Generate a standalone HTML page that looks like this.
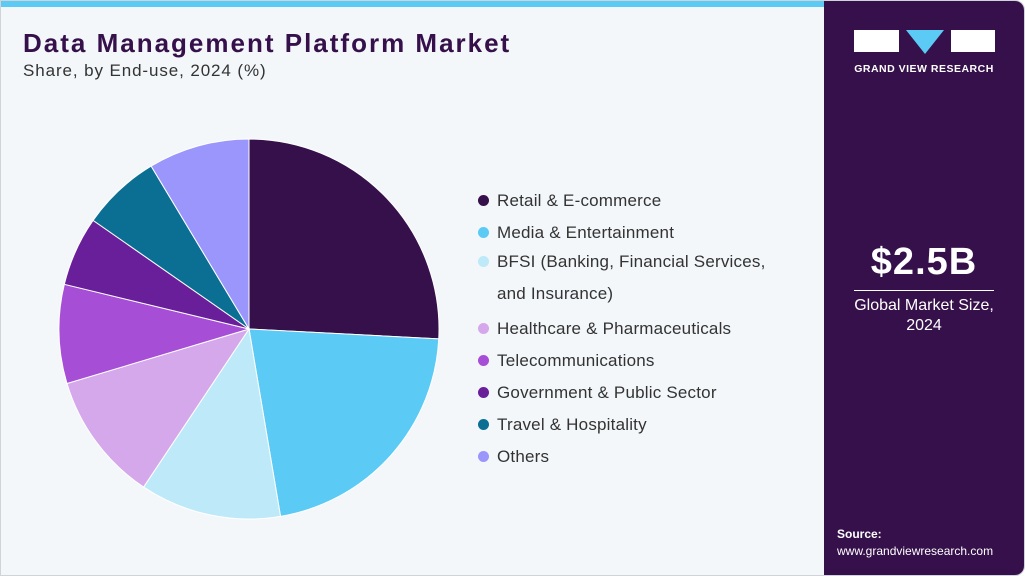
<!DOCTYPE html>
<html><head><meta charset="utf-8"><style>
body{margin:0;width:1025px;height:576px;overflow:hidden;background:#fff;font-family:"Liberation Sans",sans-serif}
#wrap{position:absolute;left:0;top:0;width:1023px;height:574px;border:1px solid #d0d4d8;border-radius:0 10px 10px 0;background:#f3f7fa;overflow:hidden}
#topbar{position:absolute;left:0;top:0;width:823px;height:6px;background:#5bcbf5}
#panel{position:absolute;left:823px;top:0;width:200px;height:574px;background:#36104a}
h1{position:absolute;left:22px;top:27px;margin:0;font-size:26px;font-weight:bold;color:#36104a;letter-spacing:2px}
#sub{position:absolute;left:22px;top:60px;font-size:17px;color:#333;letter-spacing:0.9px}
.leg{position:absolute;left:477px;font-size:17px;color:#333;letter-spacing:0.2px}
.leg i{display:inline-block;width:11px;height:11px;border-radius:50%;margin-right:8px;vertical-align:0px}
</style></head><body>
<div id="wrap">
<div id="topbar"></div>
<h1>Data Management Platform Market</h1>
<div id="sub">Share, by End-use, 2024 (%)</div>
<svg id="pie" width="500" height="576" style="position:absolute;left:0;top:0"></svg>
<div id="legend"></div>
<div id="panel">
 <svg width="200" height="80" style="position:absolute;left:0;top:0">
  <rect x="30" y="29" width="45" height="22" fill="#fff"/>
  <polygon points="82,29 120,29 101,53" fill="#5bcbf5"/>
  <rect x="127" y="29" width="44" height="22" fill="#fff"/>
  <text x="100" y="71" text-anchor="middle" font-size="10.5" font-weight="bold" fill="#fff" font-family="Liberation Sans" letter-spacing="0.5">GRAND VIEW RESEARCH</text>
 </svg>
 <div style="position:absolute;left:0;width:200px;top:240px;text-align:center;color:#fff;font-size:38px;font-weight:bold;letter-spacing:1px">$2.5B</div>
 <div style="position:absolute;left:30px;width:140px;top:289px;border-top:1px solid #fff"></div>
 <div style="position:absolute;left:0;width:200px;top:295px;text-align:center;color:#fff;font-size:16px;line-height:20px">Global Market Size,<br>2024</div>
 <div style="position:absolute;left:13px;top:526px;color:#fff;font-size:12px;font-weight:bold">Source:</div>
 <div style="position:absolute;left:13px;top:543px;color:#fff;font-size:12px">www.grandviewresearch.com</div>
</div>
</div>
<script>
const categories=["Retail & E-commerce","Media & Entertainment","BFSI (Banking, Financial Services,|and Insurance)","Healthcare & Pharmaceuticals","Telecommunications","Government & Public Sector","Travel & Hospitality","Others"];
const shares=[25.8,21.5,12.0,11.0,8.4,5.9,6.7,8.6];
const colors=["#36104a","#5bcbf5","#bde9f9","#d5a8ec","#a64fd6","#6a1f9a","#0b6f94","#9b96fc"];
const svg=document.getElementById('pie');
const cx=248,cy=328,r=190,NS="http://www.w3.org/2000/svg";
const total=shares.reduce((a,b)=>a+b,0);
let a0=0;
shares.forEach((v,i)=>{
 const a1=a0+v/total*2*Math.PI;
 const x0=cx+r*Math.sin(a0),y0=cy-r*Math.cos(a0),x1=cx+r*Math.sin(a1),y1=cy-r*Math.cos(a1);
 const p=document.createElementNS(NS,'path');
 p.setAttribute('d',`M${cx},${cy}L${x0},${y0}A${r},${r} 0 ${a1-a0>Math.PI?1:0} 1 ${x1},${y1}Z`);
 p.setAttribute('fill',colors[i]);p.setAttribute('stroke','#fff');p.setAttribute('stroke-width','1');
 
 
 svg.appendChild(p);a0=a1;
});
const lg=document.getElementById('legend');
let y=190;
categories.forEach((c,i)=>{
 const parts=c.split('|');
 const d=document.createElement('div');d.className='leg';d.style.top=y+'px';
 
 
 d.innerHTML='<i style="background:'+colors[i]+'"></i>'+parts[0]+(parts[1]?'<br><span style="margin-left:19px;line-height:50px">'+parts[1]+'</span>':'');
 if(parts[1])d.style.lineHeight='14px';
 lg.appendChild(d);y+=parts.length*32;
});
</script>
</body></html>
